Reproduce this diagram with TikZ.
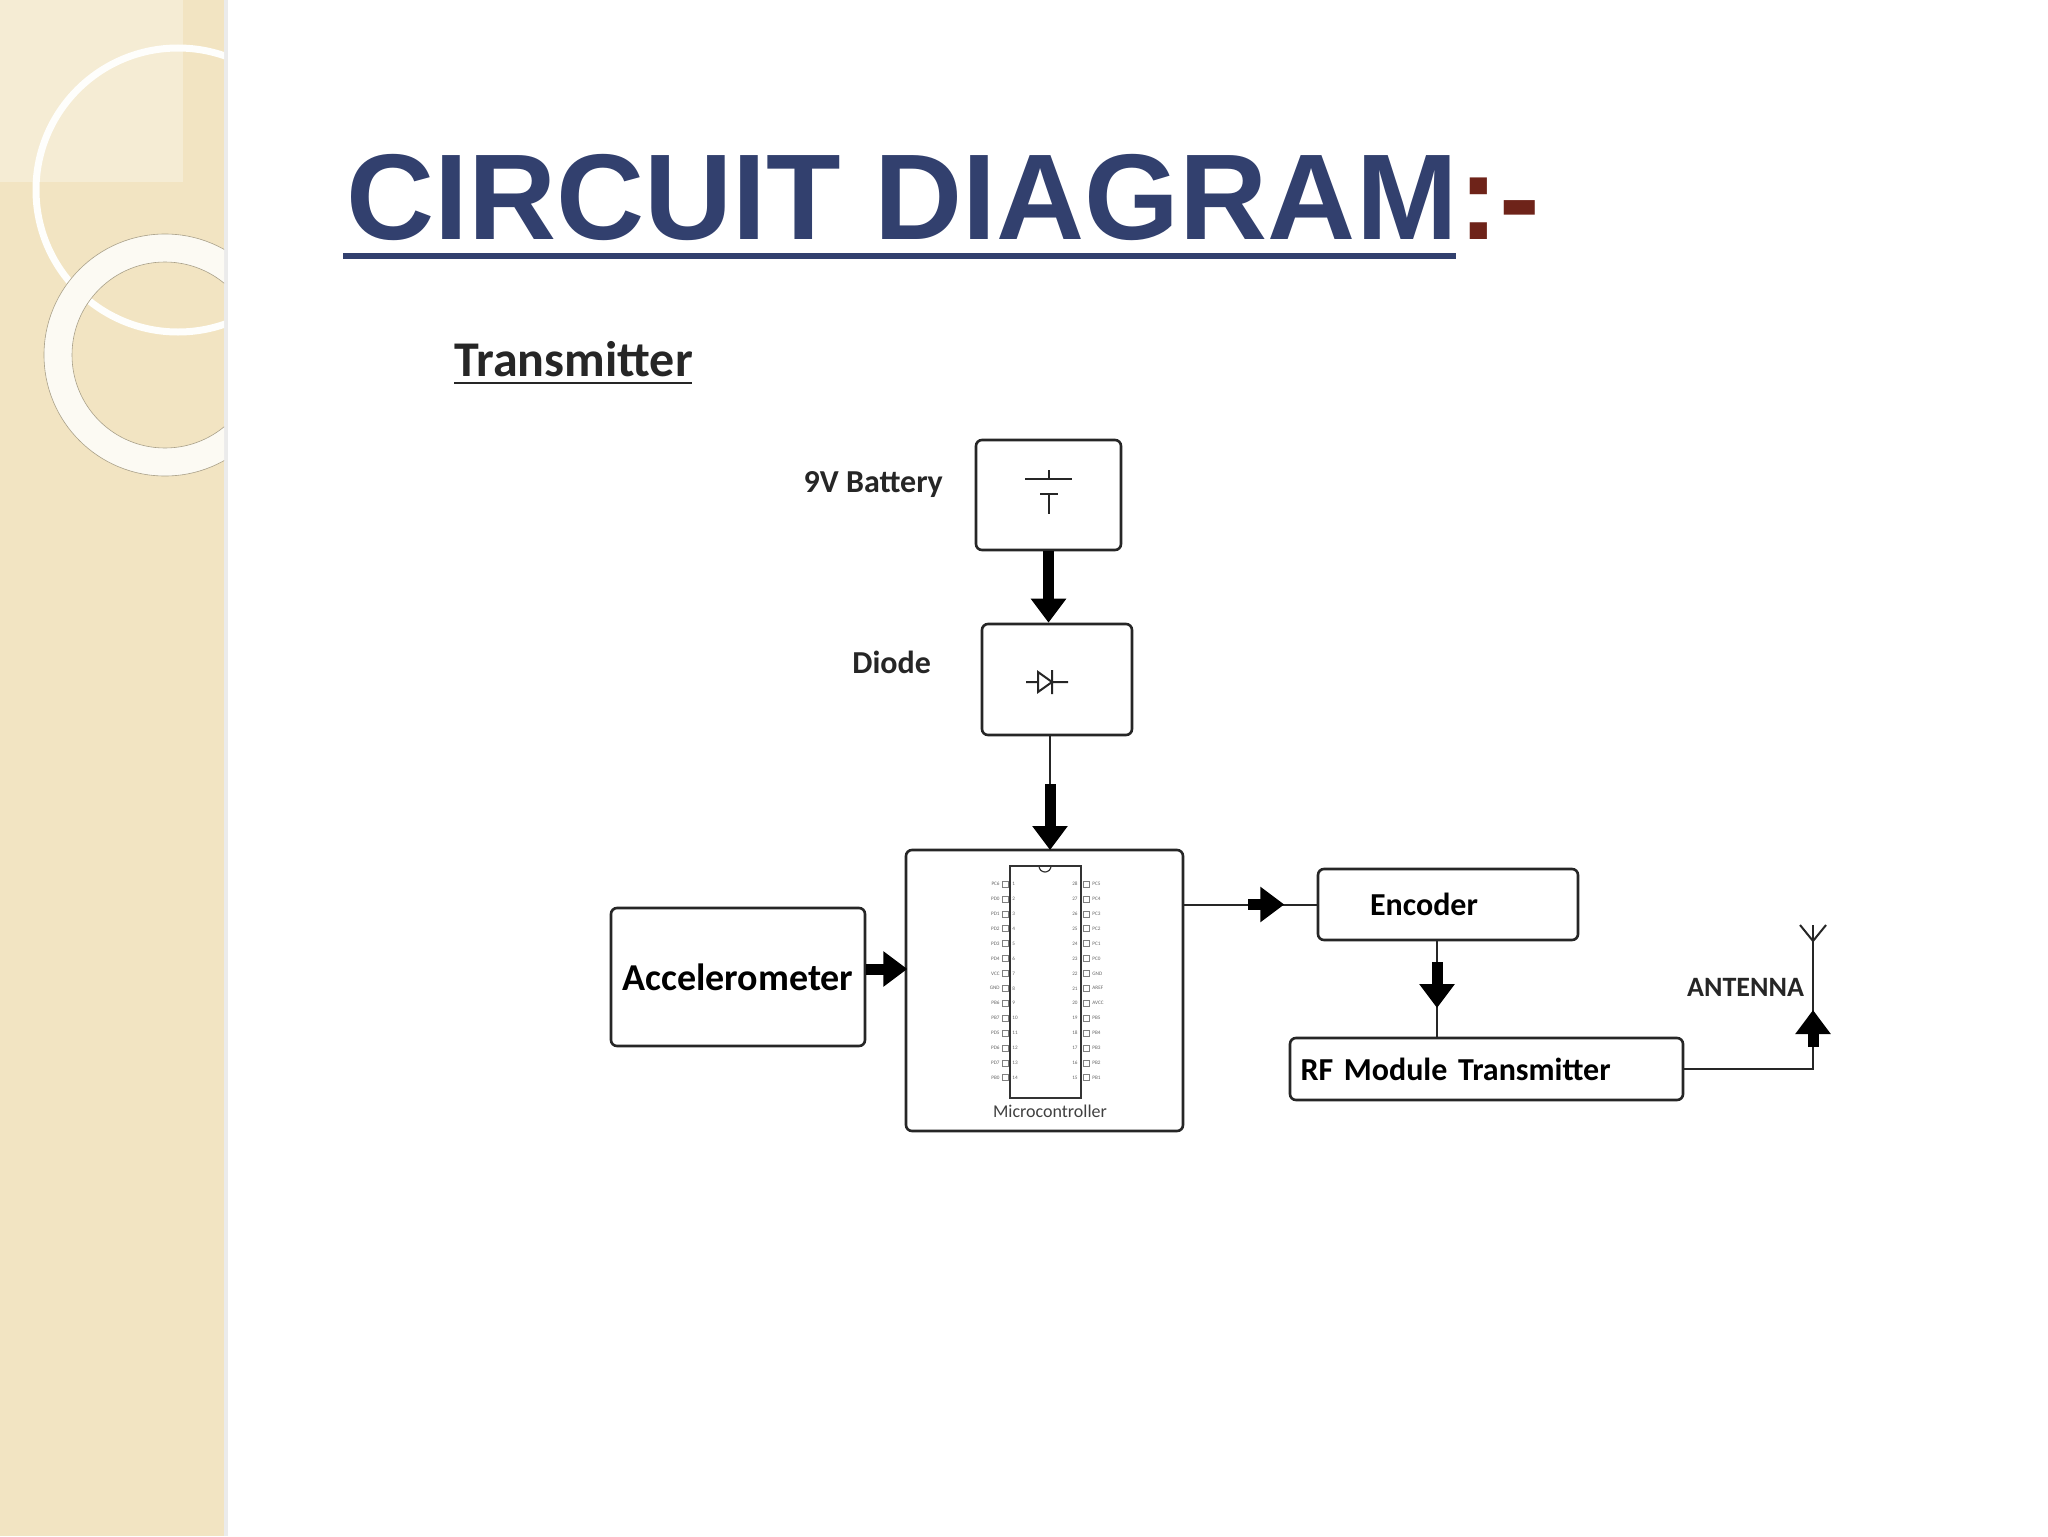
\documentclass[tikz,border=0pt]{standalone}
\usepackage{fontspec}
\setmainfont{Carlito}
\newfontfamily\arialf{Liberation Sans}
\usetikzlibrary{arrows.meta,calc}
\definecolor{side}{RGB}{242,228,194}
\definecolor{navy}{RGB}{50,64,110}
\definecolor{dred}{RGB}{110,35,25}
\begin{document}
\begin{tikzpicture}[x=0.5pt,y=-0.5pt,
  box/.style={draw=black!85,line width=1.3pt,rounded corners=3pt,inner sep=0pt},
  lbl/.style={font=\bfseries\fontsize{16}{18}\selectfont,text=black!85},
  thin/.style={draw=black!85,line width=1pt},
  blk/.style={line width=5.5pt,-{Triangle[width=17pt,length=12pt]},black},
  pin/.style={font=\fontsize{2.6}{3}\selectfont,text=black!60,inner sep=0pt}]
\useasboundingbox (0,0) rectangle (2048,1536);
\fill[white] (0,0) rectangle (2048,1536);
% sidebar
\fill[side] (0,0) rectangle (227,1536);
\fill[black!8] (224,0) rectangle (228,1536);
\begin{scope}
\clip (0,0) rectangle (224,1536);
\fill[white,opacity=0.3] (0,0) rectangle (183,182);
\draw[white!95!side,line width=3.5pt] (178,190) circle[radius=142];
\fill[white!80!side,even odd rule] (165,355) circle[radius=121] (165,355) circle[radius=93];
\draw[side!70!black,line width=0.3pt] (165,355) circle[radius=121] (165,355) circle[radius=93];
\end{scope}
% title
\node[anchor=base west,inner sep=0pt,font=\arialf\bfseries\fontsize{61}{70}\selectfont,text=navy] (title) at (346,239) {CIRCUIT DIAGRAM};
\draw[navy,line width=3pt] (343,256) -- (1456,256);
\node[anchor=base west,inner sep=0pt,font=\arialf\bfseries\fontsize{61}{70}\selectfont,text=dred] (colon) at (1458,239) {:-};
\node[anchor=base west,inner sep=0pt,font=\bfseries\fontsize{25}{28}\selectfont,text=black!85] (tx) at (454,376) {Transmitter};
\draw[black!85,line width=1.2pt] (454,383) -- (692,383);
% boxes
\node[box,minimum width=72.5pt,minimum height=55pt] (bat) at (1048.5,495) {};
\node[box,minimum width=75pt,minimum height=55.5pt] (dio) at (1057,679.5) {};
\node[box,minimum width=138.5pt,minimum height=140.5pt] (mcu) at (1044.5,990.5) {};
\node[box,minimum width=127pt,minimum height=69pt,font=\bfseries\fontsize{19}{22}\selectfont] (acc) at (738,977) {Accelerometer};
\node[box,minimum width=130pt,minimum height=35.5pt,font=\bfseries\fontsize{16}{19}\selectfont,text width=112pt,align=left] (enc) at (1448,904.5) {\hspace*{17pt}Encoder};
\node[box,minimum width=196.5pt,minimum height=31pt,font=\bfseries\fontsize{16}{19}\selectfont,text width=186pt,align=left] (rf) at (1486.5,1069) {RF Module Transmitter};
% labels
\node[lbl,anchor=east] (batl) at (950,485) {9V Battery};
\node[lbl,anchor=east] (diol) at (938,662) {Diode};
\node[lbl,anchor=east,font=\bfseries\fontsize{14}{16}\selectfont] (antl) at (1811,987) {ANTENNA};
% battery symbol
\draw[black!85,line width=1pt] (1025,479) -- (1072,479) (1040,494) -- (1058,494) (1049,470) -- (1049,479) (1049,494) -- (1049,514);
% diode symbol
\draw[black!85,line width=1pt] (1026,682) -- (1038,682) (1038,672) -- (1052,682) -- (1038,692) -- cycle (1052,670) -- (1052,694) (1052,682) -- (1068,682);
% chip
\draw[black!80,line width=0.8pt] (1010,866) rectangle (1081,1098);
\draw[black!80,line width=0.6pt] (1039,866) arc[start angle=180,end angle=0,radius=6];
\foreach \l [count=\i] in {PC6,PD0,PD1,PD2,PD3,PD4,VCC,GND,PB6,PB7,PD5,PD6,PD7,PB0}{
  \pgfmathsetmacro{\yy}{884+(\i-1)*14.9}
  \node[pin,anchor=east] at (1000,\yy) {\l};
  \draw[black!50,line width=0.3pt] (1002,\yy-3) rectangle (1008,\yy+3);
  \node[pin,anchor=west] at (1012,\yy) {\i};
}
\foreach \l [count=\i] in {PC5,PC4,PC3,PC2,PC1,PC0,GND,AREF,AVCC,PB5,PB4,PB3,PB2,PB1}{
  \pgfmathsetmacro{\yy}{884+(\i-1)*14.9}
  \pgfmathtruncatemacro{\nn}{29-\i}
  \node[pin,anchor=east] at (1078,\yy) {\nn};
  \draw[black!50,line width=0.3pt] (1083,\yy-3) rectangle (1089,\yy+3);
  \node[pin,anchor=west] at (1092,\yy) {\l};
}
\node[font=\fontsize{9}{10}\selectfont,text=black!75,inner sep=0pt] (mcl) at (1050,1111) {Microcontroller};
% connectors
\draw[blk] (bat.south) -- (bat.south |- dio.north);
\coordinate (dm) at (1050,850);
\draw[thin] (dm |- dio.south) -- (dm);
\draw[blk] ($(dm)+(0,-66)$) -- (dm);
\draw[blk] ($(acc.east)+(0,-8)$) -- ($(acc.east)+(41,-8)$);
\coordinate (me) at (mcu.east |- enc.west);
\draw[thin] (me) -- (enc.west);
\draw[blk] ($(me)+(64,0)$) -- ($(me)+(100,0)$);
\coordinate (et) at (1437,940);
\draw[thin] (et) -- (et |- rf.north);
\draw[blk] (1437,962) -- (1437,1008);
\coordinate (ab) at (1813,1069);
\coordinate (at) at (1813,925);
\draw[thin] (rf.east) -- (ab) -- (at);
\draw[thin] (1800,925) -- (1813,941) -- (1826,925);
\draw[blk] (1813,1047) -- (1813,1010);
\end{tikzpicture}
\end{document}
